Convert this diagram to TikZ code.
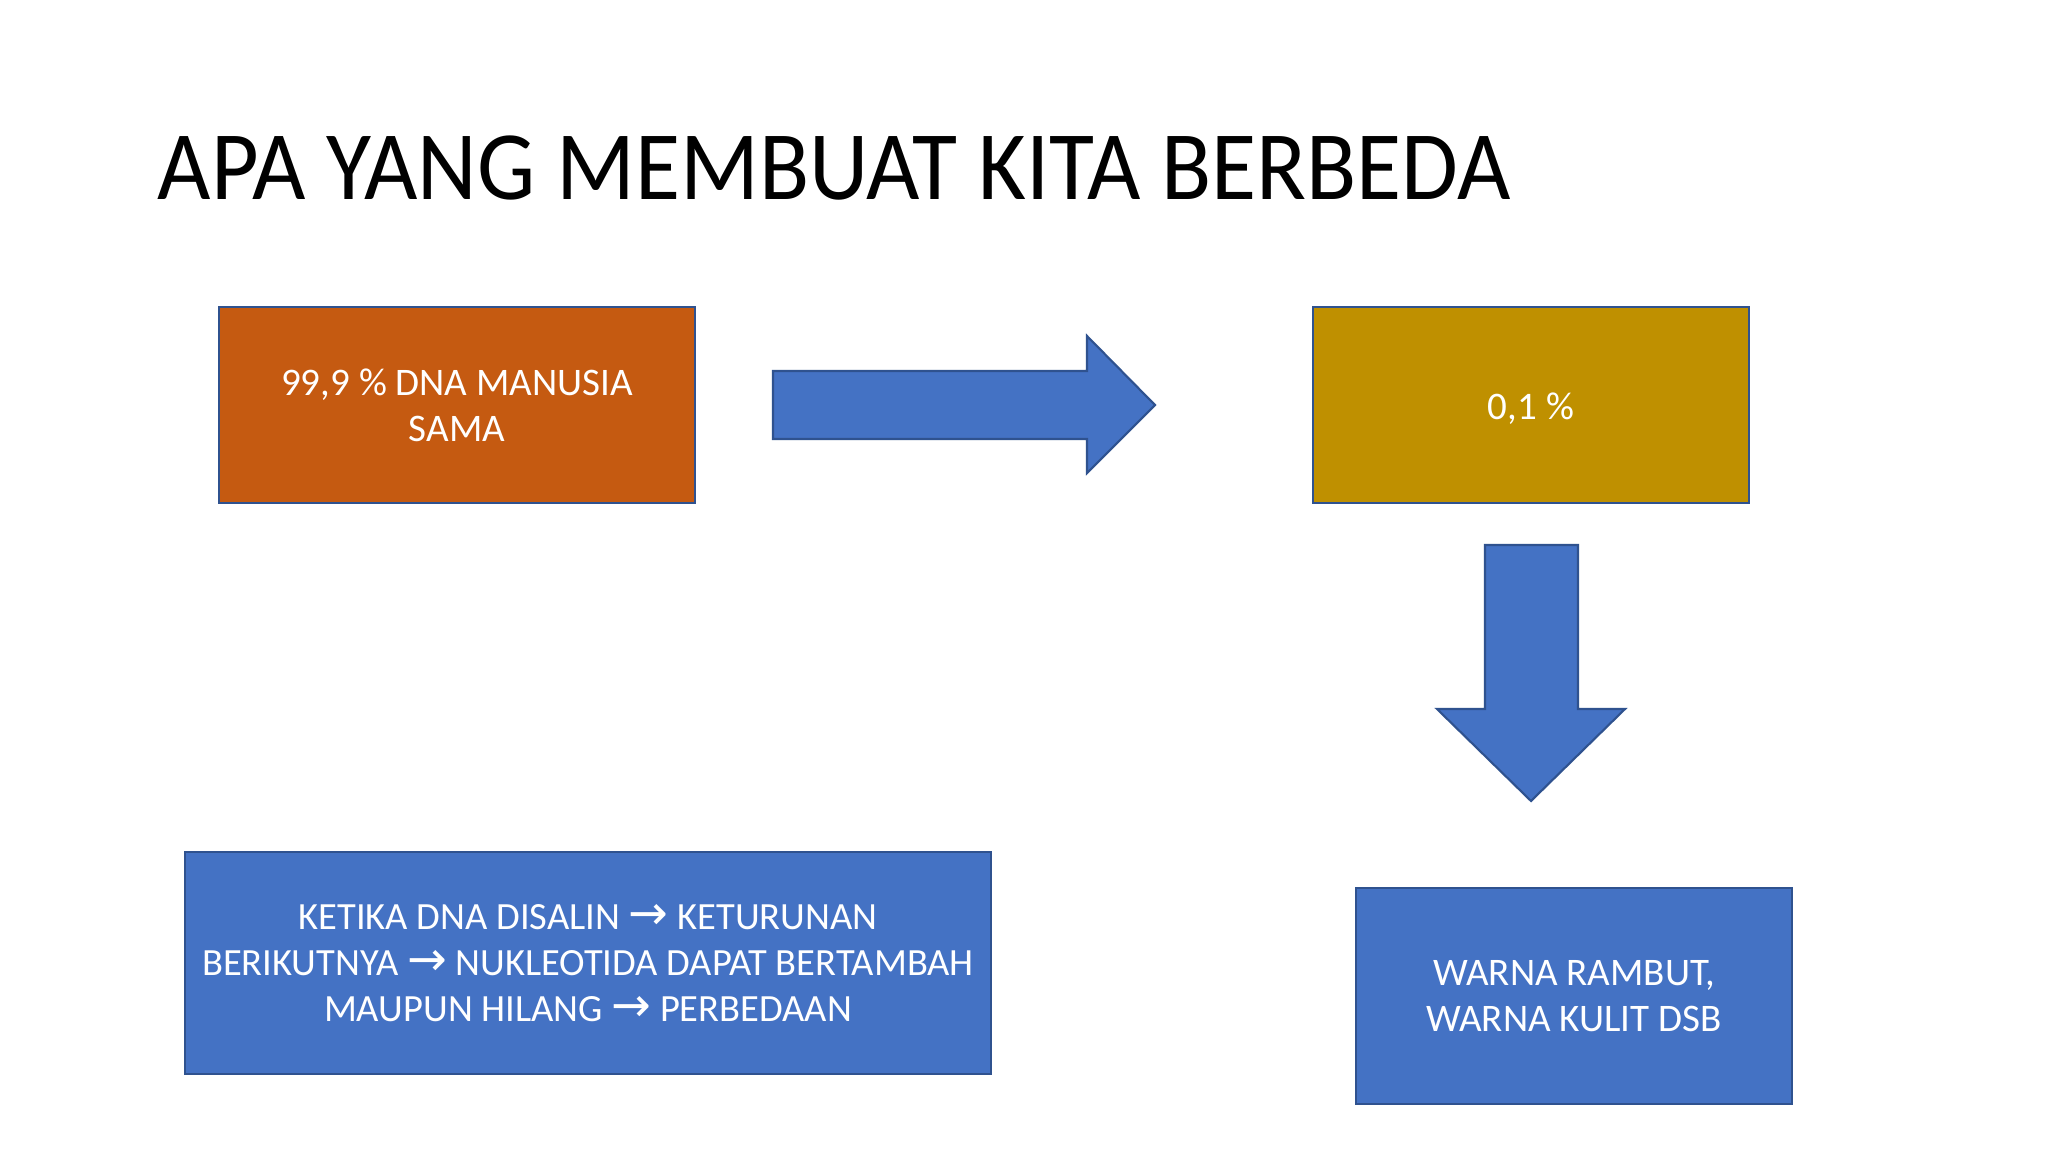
\documentclass[tikz,border=0pt]{standalone}
\usepackage{fontspec}
\setmainfont{Carlito}
\newfontfamily\titlefont[FakeStretch=0.94]{Carlito}
\newfontfamily\arrowfont{DejaVu Sans}
\newcommand{\rarr}{{\arrowfont\fontsize{13.5}{13.1}\selectfont →}}
\definecolor{orangebox}{HTML}{C55A11}
\definecolor{goldbox}{HTML}{BF9000}
\definecolor{bluebox}{HTML}{4472C4}
\definecolor{edgeblue}{HTML}{2F528F}
\begin{document}
\begin{tikzpicture}[x=0.01cm,y=-0.01cm,
  box/.style={draw=edgeblue,line width=0.6pt,rectangle,text=white,align=center,
    font=\fontsize{11.1}{13.1}\selectfont,inner sep=0pt},
  boxtext/.style={text=white,align=center,font=\fontsize{11.1}{13.1}\selectfont,inner sep=0pt},
  blockarrow/.style={fill=bluebox,draw=edgeblue,line width=0.6pt}]
\useasboundingbox[fill=white] (0,0) rectangle (2048,1152);
\node[anchor=base west,font=\titlefont\fontsize{27.9}{30}\selectfont,inner sep=0pt] (title) at (157,200) {APA YANG MEMBUAT KITA BERBEDA};
\node[box,fill=orangebox,minimum width=4.76cm,minimum height=1.96cm] (b1) at (457,405) {99,9 \% DNA MANUSIA\\SAMA};
\node[box,fill=goldbox,minimum width=4.36cm,minimum height=1.96cm] (b2) at (1531,405) {};
\node[boxtext] (b2t) at ([yshift=-1.1pt]b2.center) {0,1 \%};
\node[box,fill=bluebox,minimum width=8.06cm,minimum height=2.22cm,font=\fontsize{10.95}{13.1}\selectfont] (b3) at (588,963) {KETIKA DNA DISALIN \rarr{} KETURUNAN\\BERIKUTNYA \rarr{} NUKLEOTIDA DAPAT BERTAMBAH\\MAUPUN HILANG \rarr{} PERBEDAAN};
\node[box,fill=bluebox,minimum width=4.36cm,minimum height=2.16cm] (b4) at (1574,996) {WARNA RAMBUT,\\WARNA KULIT DSB};
\draw[blockarrow] (773,371) -- (1087,371) -- (1087,336) -- (1155,405) -- (1087,473) -- (1087,439) -- (773,439) -- cycle;
\draw[blockarrow] (1485,545) -- (1578,545) -- (1578,709) -- (1625,709) -- (1531,801) -- (1437,709) -- (1485,709) -- cycle;
\end{tikzpicture}
\end{document}
